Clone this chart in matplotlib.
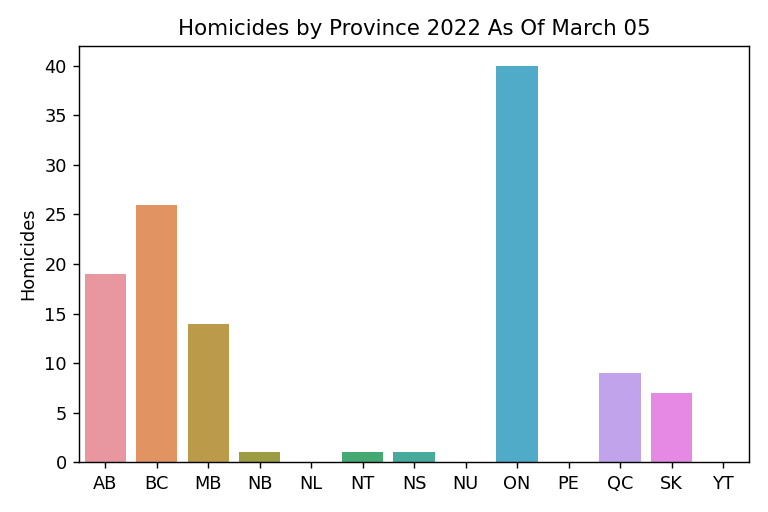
import matplotlib
matplotlib.use("Agg")
import matplotlib.pyplot as plt
import seaborn as sns
import pandas as pd

provinces = ["AB", "BC", "MB", "NB", "NL", "NT", "NS", "NU", "ON", "PE", "QC", "SK", "YT"]
homicides = [19, 26, 14, 1, 0, 1, 1, 0, 40, 0, 9, 7, 0]

df = pd.DataFrame({"Province": provinces, "Homicides": homicides})

# colours as they look in the original (husl, washed out)
pal = ["#e8969f", "#e29362", "#bb9a4a", "#9c9c45", "#72a347", "#44aa72",
       "#47aa9c", "#4aa8b3", "#50abc8", "#8aa6e6", "#c0a3ea", "#e689e4", "#e88fbf"]

fig, ax = plt.subplots(figsize=(6, 4), dpi=128)
sns.barplot(data=df, x="Province", y="Homicides", hue="Province",
            palette=pal, saturation=1, legend=False, ax=ax)
ax.set_xlabel("")
ax.set_ylabel("Homicides")
ax.set_title("Homicides by Province 2022 As Of March 05")
fig.tight_layout()
fig.savefig("out.png")
